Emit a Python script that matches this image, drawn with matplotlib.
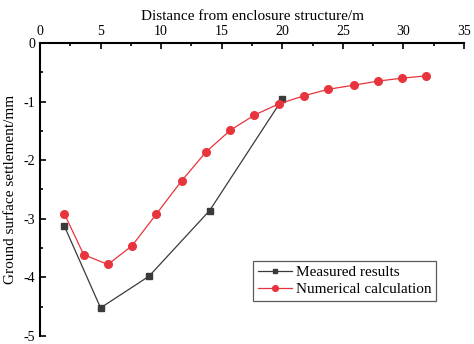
import matplotlib
matplotlib.use('Agg')
import matplotlib.pyplot as plt
from matplotlib.ticker import MultipleLocator

# measured data
x_meas = [2, 5, 9, 14, 20]
y_meas = [-3.12, -4.52, -3.98, -2.86, -0.96]

# numerical simulation
x_num = [2, 3.6, 5.6, 7.6, 9.6, 11.7, 13.7, 15.7, 17.7, 19.7, 21.8, 23.8, 25.9, 27.9, 29.9, 31.9]
y_num = [-2.91, -3.61, -3.78, -3.46, -2.92, -2.35, -1.86, -1.49, -1.23, -1.04,
         -0.90, -0.79, -0.72, -0.65, -0.60, -0.56]

plt.rcParams['font.family'] = ['Liberation Serif', 'DejaVu Serif']
plt.rcParams['axes.unicode_minus'] = False

fig = plt.figure(figsize=(4.74, 3.44), dpi=100)
ax = fig.add_axes([0.0844, 0.0233, 0.8945, 0.8517])

ax.plot(x_meas, y_meas, color='#3a3a3a', lw=0.9, marker='s', ms=4.5,
        label='Measured results')
ax.plot(x_num, y_num, color='#e8343c', lw=0.9, marker='o', ms=5.5,
        label='Numerical calculation')

ax.set_xlim(0, 35)
ax.set_ylim(-5, 0)
ax.xaxis.set_major_locator(MultipleLocator(5))
ax.xaxis.set_minor_locator(MultipleLocator(2.5))
ax.yaxis.set_major_locator(MultipleLocator(1))
ax.yaxis.set_minor_locator(MultipleLocator(0.5))

ax.xaxis.tick_top()
ax.xaxis.set_label_position('top')
ax.spines['right'].set_visible(False)
ax.spines['bottom'].set_visible(False)
for s in ['top', 'left']:
    ax.spines[s].set_linewidth(1.5)

ax.tick_params(which='both', direction='in', top=True, bottom=False, right=False,
               labelsize=10, width=1.2)
ax.tick_params(which='major', length=4)
ax.tick_params(which='minor', length=2.5)

ax.set_xlabel('Distance from enclosure structure/m', fontsize=11, labelpad=4)
ax.set_ylabel('Ground surface settlement/mm', fontsize=11, labelpad=5)

leg = ax.legend(loc='lower right', bbox_to_anchor=(0.935, 0.12), fontsize=11,
                frameon=True, fancybox=False, edgecolor='#333333',
                handlelength=2.2, borderpad=0.3, labelspacing=0.2,
                handletextpad=0.3, borderaxespad=0, markerscale=0.75)
leg.get_frame().set_linewidth(0.9)

fig.savefig('out.png', dpi=100)
